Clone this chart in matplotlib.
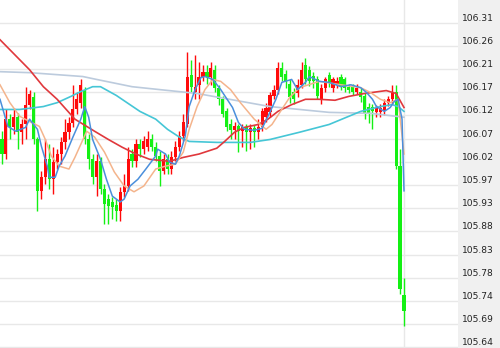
import matplotlib
matplotlib.use('Agg')
import matplotlib.pyplot as plt
import numpy as np

# candle OHLC (one per bar, left to right)
opens = [106.069, 106.039, 106.111, 106.094, 106.115, 106.084, 106.100, 106.141, 106.156, 106.069,
         105.963, 105.991, 106.028, 105.987, 106.022, 106.039, 106.063, 106.084, 106.104, 106.131,
         106.145, 106.172, 106.069, 106.028, 105.991, 106.024, 105.967, 105.946, 105.940, 105.934,
         105.922, 105.961, 105.973, 106.039, 106.024, 106.059, 106.049, 106.053, 106.069, 106.053,
         106.035, 106.004, 106.028, 106.008, 106.032, 106.053, 106.076, 106.100, 106.203, 106.168,
         106.182, 106.197, 106.209, 106.197, 106.213, 106.176, 106.152, 106.127, 106.100, 106.088,
         106.096, 106.086, 106.094, 106.084, 106.092, 106.084, 106.094, 106.115, 106.125, 106.158,
         106.172, 106.217, 106.205, 106.184, 106.168, 106.166, 106.182, 106.223, 106.213, 106.201,
         106.193, 106.152, 106.176, 106.203, 106.176, 106.182, 106.199, 106.193, 106.178, 106.178,
         106.168, 106.168, 106.158, 106.137, 106.137, 106.125, 106.125, 106.127, 106.145, 106.152,
         106.168, 106.014, 105.747]
closes = [106.039, 106.111, 106.094, 106.115, 106.084, 106.100, 106.141, 106.162, 106.069, 105.963,
          105.991, 106.028, 105.987, 106.022, 106.039, 106.063, 106.084, 106.104, 106.131, 106.152,
          106.182, 106.069, 106.028, 105.991, 106.024, 105.967, 105.936, 105.932, 105.930, 105.922,
          105.961, 105.973, 106.028, 106.024, 106.059, 106.049, 106.065, 106.069, 106.053, 106.035,
          106.004, 106.028, 106.008, 106.032, 106.053, 106.076, 106.106, 106.199, 106.178, 106.178,
          106.199, 106.209, 106.197, 106.217, 106.176, 106.152, 106.121, 106.094, 106.088, 106.096,
          106.086, 106.094, 106.084, 106.092, 106.084, 106.094, 106.127, 106.135, 106.160, 106.172,
          106.217, 106.197, 106.189, 106.156, 106.152, 106.182, 106.213, 106.193, 106.189, 106.189,
          106.158, 106.176, 106.193, 106.187, 106.193, 106.189, 106.178, 106.176, 106.172, 106.168,
          106.176, 106.156, 106.121, 106.121, 106.127, 106.135, 106.135, 106.145, 106.152, 106.164,
          106.014, 105.761, 105.714]
highs = [106.086, 106.131, 106.121, 106.135, 106.123, 106.111, 106.178, 106.172, 106.168, 106.074,
         106.004, 106.069, 106.059, 106.053, 106.049, 106.074, 106.111, 106.115, 106.182, 106.168,
         106.193, 106.178, 106.080, 106.039, 106.039, 106.032, 105.977, 105.956, 105.950, 105.946,
         105.971, 105.998, 106.053, 106.049, 106.069, 106.069, 106.076, 106.086, 106.080, 106.063,
         106.045, 106.039, 106.039, 106.045, 106.065, 106.086, 106.121, 106.250, 106.234, 106.244,
         106.230, 106.223, 106.223, 106.230, 106.223, 106.182, 106.158, 106.135, 106.111, 106.106,
         106.102, 106.102, 106.100, 106.100, 106.098, 106.111, 106.135, 106.145, 106.168, 106.182,
         106.230, 106.230, 106.213, 106.193, 106.176, 106.193, 106.230, 106.238, 106.221, 106.209,
         106.201, 106.184, 106.199, 106.209, 106.199, 106.197, 106.205, 106.199, 106.184, 106.184,
         106.184, 106.176, 106.164, 106.145, 106.143, 106.141, 106.143, 106.152, 106.158, 106.182,
         106.182, 106.049, 105.782]
lows = [106.018, 106.028, 106.069, 106.080, 106.049, 106.059, 106.069, 106.131, 106.059, 105.922,
        105.946, 105.977, 105.967, 105.956, 106.008, 106.018, 106.049, 106.069, 106.094, 106.121,
        106.135, 106.059, 106.008, 105.977, 105.952, 105.956, 105.895, 105.895, 105.905, 105.901,
        105.901, 105.950, 105.963, 106.012, 106.012, 106.032, 106.039, 106.045, 106.045, 106.024,
        105.973, 105.998, 105.998, 105.998, 106.024, 106.045, 106.065, 106.094, 106.168, 106.152,
        106.152, 106.189, 106.184, 106.182, 106.168, 106.141, 106.115, 106.086, 106.069, 106.069,
        106.043, 106.053, 106.045, 106.049, 106.053, 106.069, 106.086, 106.106, 106.115, 106.152,
        106.162, 106.189, 106.176, 106.145, 106.143, 106.156, 106.176, 106.184, 106.180, 106.176,
        106.152, 106.143, 106.168, 106.178, 106.168, 106.176, 106.172, 106.168, 106.164, 106.160,
        106.162, 106.147, 106.111, 106.104, 106.090, 106.115, 106.115, 106.119, 106.139, 106.143,
        106.008, 105.751, 105.683]

# moving averages, sampled at bar positions
ma_fast_x = [-0.5, 1.5, 3.5, 6, 7, 9, 10, 11.5, 12, 13.5, 14.5, 16, 18, 20, 21, 22, 23, 25, 26.5, 28,
             30, 31, 32.5, 34.5, 36.5, 39, 39.5, 41.5, 42.5, 44, 45, 46.5, 47.5, 49, 50.5, 51.5, 53.5,
             55.5, 58.5, 60, 61.5, 64, 66, 67.5, 69.5, 71, 73.5, 75, 77, 78, 80.5, 83, 86, 88.5, 91,
             92.5, 94, 95, 97, 98.5, 99.5, 100.5, 101.5, 102]
ma_fast = [106.152, 106.096, 106.086, 106.094, 106.111, 106.090, 106.055, 106.014, 105.991, 105.991,
           106.014, 106.035, 106.074, 106.111, 106.137, 106.115, 106.069, 106.028, 105.987, 105.952,
           105.940, 105.946, 105.973, 105.987, 106.008, 106.035, 106.049, 106.039, 106.022, 106.018,
           106.035, 106.076, 106.137, 106.172, 106.197, 106.199, 106.193, 106.172, 106.135, 106.104,
           106.090, 106.088, 106.092, 106.117, 106.152, 106.187, 106.193, 106.172, 106.187, 106.199,
           106.189, 106.187, 106.178, 106.182, 106.176, 106.166, 106.152, 106.137, 106.127, 106.135,
           106.147, 106.152, 106.111, 105.963]
ma_mid_x = [-0.5, 2, 4.5, 7, 9.5, 11, 12.5, 14.5, 17, 18.5, 20, 21.5, 23.5, 26, 28.5, 31, 33.5, 36,
            39, 41.5, 44, 46, 47.5, 49.5, 51.5, 53.5, 55.5, 58, 60.5, 64, 67, 68.5, 70.5, 73, 75.5,
            80.5, 86, 91, 93.5, 96, 98.5, 100.5, 102]
ma_mid = [106.182, 106.145, 106.117, 106.106, 106.096, 106.069, 106.035, 106.014, 106.008, 106.032,
          106.059, 106.086, 106.074, 106.043, 106.002, 105.973, 105.961, 105.973, 106.008, 106.014,
          106.018, 106.043, 106.090, 106.137, 106.172, 106.193, 106.189, 106.172, 106.145, 106.111,
          106.090, 106.100, 106.125, 106.156, 106.176, 106.189, 106.182, 106.176, 106.166, 106.152,
          106.145, 106.152, 106.039]
ma_slow_x = [-0.5, 7, 10.5, 14, 18.5, 23.5, 27, 30.5, 34, 37.5, 42.5, 46, 50, 54.5, 56.5, 59, 61.5,
             65, 67.5, 70, 73.5, 77, 80.5, 84.5, 88, 92, 97.5, 100, 102]
ma_slow = [106.275, 106.213, 106.178, 106.152, 106.111, 106.086, 106.069, 106.053, 106.039, 106.028,
           106.024, 106.032, 106.039, 106.051, 106.065, 106.084, 106.094, 106.100, 106.111, 106.127,
           106.141, 106.152, 106.152, 106.150, 106.158, 106.164, 106.170, 106.164, 106.135]
ma_long_x = [-0.5, 4.5, 10.5, 14, 17.5, 20, 23, 25, 29, 35, 39, 42, 45, 47.5, 54.5, 63, 68, 75.5,
             83, 91, 96, 99, 100.5, 102]
ma_long = [106.131, 106.131, 106.137, 106.145, 106.158, 106.168, 106.178, 106.178, 106.160, 106.127,
           106.111, 106.090, 106.074, 106.065, 106.063, 106.063, 106.069, 106.084, 106.100, 106.127,
           106.137, 106.141, 106.137, 106.127]
ma_longest_x = [-0.5, 7, 20.5, 24, 33, 40, 49.5, 68, 83, 93.5, 102]
ma_longest = [106.209, 106.207, 106.199, 106.193, 106.178, 106.172, 106.164, 106.137, 106.125,
              106.123, 106.115]

tick_labels = ['105.64', '105.69', '105.74', '105.78', '105.83', '105.88', '105.93', '105.97',
               '106.02', '106.07', '106.12', '106.17', '106.21', '106.26', '106.31']

up_color = '#ff0a0a'
down_color = '#14f014'

fig = plt.figure(figsize=(5.0, 3.48), dpi=100)
fig.patch.set_facecolor('white')
fig.add_artist(plt.Rectangle((0.916, 0), 0.084, 1, transform=fig.transFigure,
                             facecolor='#f0f0f0', edgecolor='none', zorder=0))
ax = fig.add_axes([0, 0, 0.916, 1])
ax.set_facecolor('white')

x = np.arange(len(opens))
o = np.array(opens)
c = np.array(closes)
cols = [up_color if cc >= oo else down_color for oo, cc in zip(o, c)]

ax.vlines(x, lows, highs, colors=cols, linewidth=1.0, zorder=3)
bottoms = np.minimum(o, c)
heights = np.maximum(np.abs(c - o), 0.002)
ax.bar(x, heights, bottom=bottoms, width=0.8, color=cols, linewidth=0, zorder=3)

ax.plot(ma_longest_x, ma_longest, color='#bccbdd', lw=1.2, zorder=4)
ax.plot(ma_long_x, ma_long, color='#45c6d6', lw=1.2, zorder=4)
ax.plot(ma_slow_x, ma_slow, color='#e0383c', lw=1.2, zorder=4)
ax.plot(ma_mid_x, ma_mid, color='#f4b48c', lw=1.1, zorder=4)
ax.plot(ma_fast_x, ma_fast, color='#4a8fdc', lw=1.1, zorder=4)

ticks = np.linspace(105.64, 106.31, len(tick_labels))
ax.set_yticks(ticks)
ax.set_yticklabels(tick_labels)
ax.yaxis.tick_right()
ax.tick_params(axis='y', length=0, pad=3, labelsize=6.6, labelcolor='#222222')
for lab in ax.get_yticklabels():
    lab.set_verticalalignment('bottom')
ax.set_xticks([102])
ax.tick_params(axis='x', length=0, labelbottom=False)
ax.grid(True, color='#e8e8e8', linewidth=1.0, zorder=0)
ax.set_axisbelow(True)
for s in ax.spines.values():
    s.set_visible(False)

ax.set_xlim(-0.5, 115.7)
ax.set_ylim(105.6385, 106.357)

fig.savefig('out.png', dpi=100)
